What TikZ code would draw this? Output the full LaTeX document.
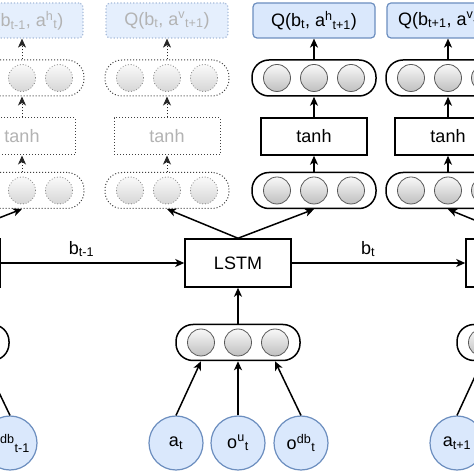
\documentclass[tikz,border=0pt]{standalone}
\usepackage{fontspec}
\setmainfont{Liberation Sans}
\usetikzlibrary{shapes,arrows.meta,positioning}
\definecolor{qfill}{HTML}{DAE8FC}
\definecolor{qline}{HTML}{6C8EBF}
\definecolor{ghost}{HTML}{B3B3B3}

\begin{document}
\begin{tikzpicture}[x=1pt,y=1pt,>={Stealth[length=9pt,width=8pt,inset=2.5pt]},line width=1.5pt,
    font=\fontsize{18}{21}\selectfont,
    lstm/.style={draw,fill=white,minimum width=106,minimum height=48,inner sep=0},
    layerN/.style={draw,fill=white,rounded corners=17,minimum width=124,minimum height=36,inner sep=0},
    layerG/.style={layerN,draw=black!75,dotted,line width=1pt},
    unitN/.style={circle,draw=black!65,line width=0.8pt,top color=gray!5,bottom color=gray!50,minimum size=27,inner sep=0},
    unitG/.style={unitN,draw=black!50,dotted,top color=gray!4,bottom color=gray!32},
    tanhN/.style={draw,fill=white,minimum width=106,minimum height=37,inner sep=0},
    tanhG/.style={tanhN,draw=black!75,dotted,line width=1pt,text=ghost},
    qN/.style={draw=qline,fill=qfill,line width=1.2pt,rounded corners=4,minimum width=122,minimum height=35,inner sep=0},
    qG/.style={qN,draw=qline!60,fill=qfill!70,dotted,text=ghost},
    arrN/.style={->},
    arrG/.style={->,dotted,draw=black!85,line width=1pt},
    obs/.style={circle,draw=qline,fill=qfill,line width=1.2pt,minimum size=54,inner sep=0},
  ]
  \useasboundingbox (0,0) rectangle (474,474);
  \clip (0,0) rectangle (474,474);

  % recurrent cells
  \node[lstm] (lstmL) at (-53,211) {};
  \node[lstm] (lstmC) at (238,211) {LSTM};
  \node[lstm] (lstmR) at (519,211) {};
  \draw[->] (lstmL) -- node[above=2,pos=0.44] {b\textsubscript{t-1}} (lstmC);
  \draw[->] (lstmC) -- node[above=2,pos=0.44] {b\textsubscript{t}} (lstmR);

  % input layers
  \foreach \s/\x in {L/-53,C/238,R/519}{
    \node[layerN] (in\s) at (\x,131.5) {};
    \foreach \k/\d in {1/-37,2/0,3/37}
      \node[unitN] (in\s\k) at ([xshift=\d]in\s.center) {};
    \draw[->] (in\s) -- (lstm\s);
  }

  % observations
  \node[obs] (odbL) at (10,31) {o\textsuperscript{db}\textsubscript{t-1}};
  \node[obs] (aC) at (176,31) {a\textsubscript{t}};
  \node[obs] (ouC) at (238,31) {o\textsuperscript{u}\textsubscript{t}};
  \node[obs] (odbC) at (301,31) {o\textsuperscript{db}\textsubscript{t}};
  \node[obs] (aR) at (457,31) {a\textsubscript{t+1}};
  \draw[->] (odbL.north) -- (inL3 |- inL.south);
  \draw[->] (aC.north) -- (inC1 |- inC.south);
  \draw[->] (ouC.north) -- (inC.south);
  \draw[->] (odbC.north) -- (inC3 |- inC.south);
  \draw[->] (aR.north) -- (inR1 |- inR.south);

  % Q heads
  \foreach \i/\x/\s/\g/\q in {
      1/22/L/G/{Q(b\textsubscript{t-1}, a\textsuperscript{h}\textsubscript{t})},
      2/167/C/G/{Q(b\textsubscript{t}, a\textsuperscript{v}\textsubscript{t+1})},
      3/314/C/N/{Q(b\textsubscript{t}, a\textsuperscript{h}\textsubscript{t+1})},
      4/448/R/N/{Q(b\textsubscript{t+1}, a\textsuperscript{v}\textsubscript{t+2})}}{
    \node[layer\g] (lo\i) at (\x,283.5) {};
    \node[tanh\g] (th\i) at (\x,337.5) {tanh};
    \node[layer\g] (up\i) at (\x,396) {};
    \foreach \k/\d in {1/-37,2/0,3/37}{
      \node[unit\g] (lo\i\k) at ([xshift=\d]lo\i.center) {};
      \node[unit\g] (up\i\k) at ([xshift=\d]up\i.center) {};
    }
    \node[q\g] (q\i) at (\x,453.5) {\q};
    \draw[arr\g] (lo\i) -- (th\i);
    \draw[arr\g] (th\i) -- (up\i);
    \draw[arr\g] (up\i) -- (q\i);
    \draw[->] (lstm\s.north) -- (lo\i.south);
  }
\end{tikzpicture}
\end{document}
